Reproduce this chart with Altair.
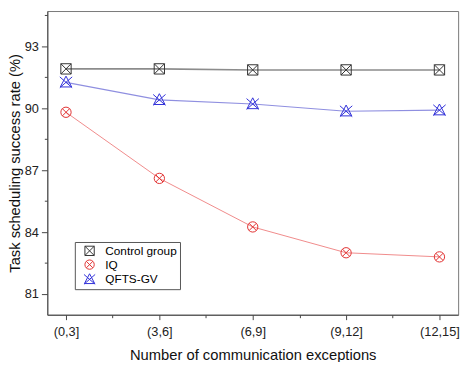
import altair as alt
import pandas as pd

categories = ["(0,3]", "(3,6]", "(6,9]", "(9,12]", "(12,15]"]
series_names = ["Control group", "IQ", "QFTS-GV"]
control = [91.9, 91.9, 91.85, 91.85, 91.85]
iq = [89.8, 86.6, 84.25, 83.0, 82.8]
qfts = [91.25, 90.4, 90.2, 89.85, 89.9]

line_colors = ["#8c8c8c", "#f08a8a", "#8f8fe0"]
line_widths = [1.6, 1.0, 1.2]
marker_colors = ["#333333", "#e03030", "#3030d8"]

rows = []
for name, vals in zip(series_names, [control, iq, qfts]):
    for i, v in enumerate(vals):
        rows.append({"series": name, "idx": i, "value": v})
df = pd.DataFrame(rows)

FONT = "Liberation Sans"

label_expr = (
    "datum.value % 1 === 0 ? " + str(categories) + "[datum.value] : ''"
)

x_enc = alt.X(
    "idx:Q",
    scale=alt.Scale(domain=[-0.2, 4.2], nice=False, zero=False),
    axis=alt.Axis(
        values=[i * 0.5 for i in range(0, 9)],
        labelExpr=label_expr,
        title="Number of communication exceptions",
        grid=False,
        tickSize={"condition": {"test": "datum.value % 1 === 0", "value": 5}, "value": 3},
    ),
)
y_enc = alt.Y(
    "value:Q",
    scale=alt.Scale(domain=[80, 94.7], nice=False, zero=False),
    axis=alt.Axis(
        values=[81 + 1.5 * k for k in range(10)],
        labelExpr="datum.value % 3 === 0 ? datum.value : ''",
        title="Task scheduling success rate (%)",
        grid=False,
        tickSize={"condition": {"test": "datum.value % 3 === 0", "value": 6}, "value": 3},
    ),
)

shape_paths = [
    "M-1,-1L1,-1L1,1L-1,1Z M-1,-1L1,1 M1,-1L-1,1",
    "M-1,0A1,1 0 1,0 1,0A1,1 0 1,0 -1,0Z M-0.7,-0.7L0.7,0.7 M0.7,-0.7L-0.7,0.7",
    "M0,-1.2L1.1,0.9L-1.1,0.9Z M-1.2,-1.05L1.2,1.05 M1.2,-1.05L-1.2,1.05",
]

line_layers = []
for name, col, w in zip(series_names, line_colors, line_widths):
    line_layers.append(
        alt.Chart(df)
        .transform_filter(alt.datum.series == name)
        .mark_line(color=col, strokeWidth=w)
        .encode(x=x_enc, y=y_enc)
    )

points = alt.Chart(df).mark_point(filled=False, size=110, strokeWidth=1, opacity=1).encode(
    x=x_enc,
    y=y_enc,
    color=alt.Color(
        "series:N",
        scale=alt.Scale(domain=series_names, range=marker_colors),
        legend=alt.Legend(title=None, orient="none", legendX=28, legendY=235),
    ),
    shape=alt.Shape(
        "series:N",
        scale=alt.Scale(domain=series_names, range=shape_paths),
        legend=alt.Legend(title=None, orient="none", legendX=28, legendY=235),
    ),
)

chart = (
    alt.layer(*line_layers, points)
    .properties(
        width=418,
        height=309,
        padding={"left": 40, "top": 0, "right": 8, "bottom": 45},
        autosize=alt.AutoSizeParams(type="none"),
    )
    .configure_view(stroke="#777777", strokeWidth=1)
    .configure_legend(
        fillColor="white",
        strokeColor="#555555",
        padding=3,
        rowPadding=0,
        labelFont=FONT,
        labelFontSize=12,
        labelColor="black",
        labelOffset=10,
        symbolOffset=6,
        symbolSize=90,
        symbolStrokeWidth=1,
    )
    .configure_axis(
        labelFont=FONT,
        titleFont=FONT,
        labelFontSize=13,
        titleFontSize=15,
        titleFontWeight="normal",
        labelColor="#222222",
        titleColor="#111111",
        domainColor="#444444",
        tickColor="#444444",
        labelPadding=3,
    )
    .configure_axisX(titlePadding=10, labelPadding=6)
    .configure_axisY(titlePadding=2)
)

chart.save("out.html", embed_options={"renderer": "svg", "actions": False})
